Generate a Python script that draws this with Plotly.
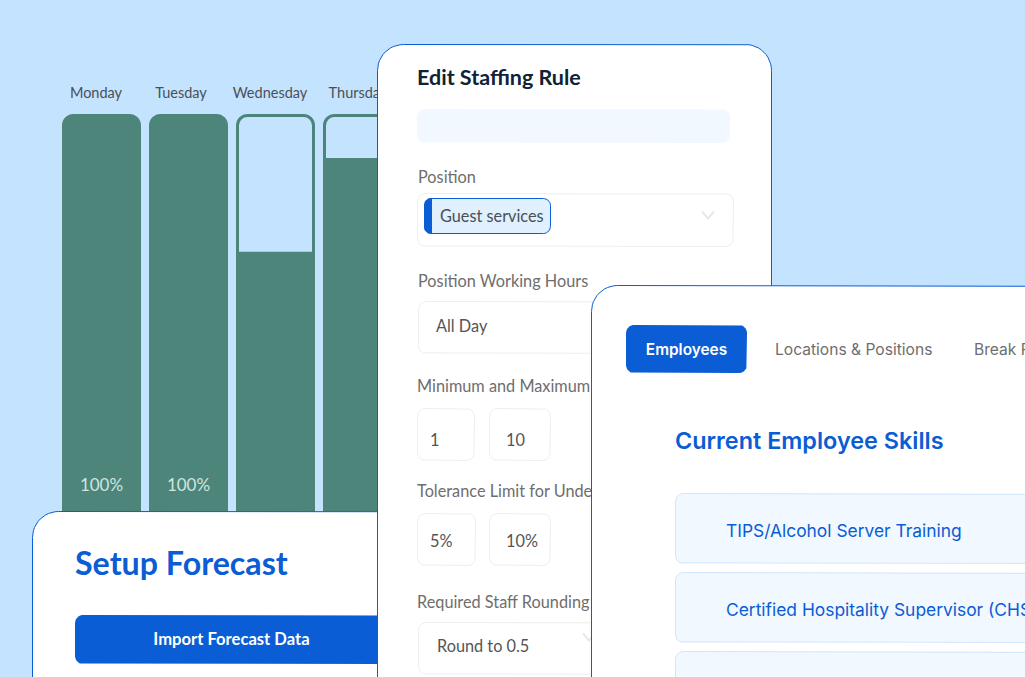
import math
import plotly.graph_objects as go

# ---- chart data ----
days = ["Monday", "Tuesday", "Wednesday", "Thursday"]
coverage = [100, 100, 68.9, 90.3]
bar_labels = ["100%", "100%", "", ""]
day_label_px = [96, 181, 270, 358]

# ---- palette ----
BG = "#C4E3FF"
TEAL = "#4E857B"
BLUE = "#0A5DD4"
PALE = "#F1F8FF"
EDGE = "#EEEEEE"
GREY = "#6E6E6E"
DARK = "#4A4F57"
NAVY = "#0E2238"
FONT = "Lato"
FONT2 = "Inter"

W, H = 1025, 677
PITCH, BAR_W = 87, 79
PX_PER_UNIT = 4.385      # bar scale: 100 % at y=115.5 px, 0 % at y=554 px
ZERO_PX = 554
FIRST_CENTRE = 101.5

fig = go.Figure()

# track bars (outlined, filled when complete)
fig.add_trace(go.Bar(
    x=days, y=[100] * len(days), xaxis="x", yaxis="y",
    width=(BAR_W - 3) / PITCH,
    marker=dict(color=[TEAL if c >= 100 else BG for c in coverage],
                line=dict(color=TEAL, width=3), cornerradius=10),
    cliponaxis=False, hoverinfo="skip", showlegend=False))
# partial fills
fig.add_trace(go.Bar(
    x=days, y=[c if c < 100 else None for c in coverage], xaxis="x", yaxis="y",
    width=BAR_W / PITCH,
    marker=dict(color=TEAL, line=dict(width=0)),
    cliponaxis=False, hoverinfo="skip", showlegend=False))
# percentage labels
fig.add_trace(go.Scatter(
    x=days, y=[15.4] * len(days), mode="text", text=bar_labels, xaxis="x", yaxis="y",
    textfont=dict(family=FONT, size=17, color="#CFE6E0"), cliponaxis=False,
    hoverinfo="skip", showlegend=False))


def rrect(x0, y0, x1, y1, r, fill="white", line=None, lw=1, corners=(1, 1, 1, 1)):
    """Rounded-rectangle interface panel in pixel coordinates (overlay axes)."""
    xs, ys = [], []
    spec = [(x0 + r, y0 + r, 180, corners[0]), (x1 - r, y0 + r, 270, corners[1]),
            (x1 - r, y1 - r, 0, corners[2]), (x0 + r, y1 - r, 90, corners[3])]
    box = [(x0, y0), (x1, y0), (x1, y1), (x0, y1)]
    for i, (cx, cy, a0, on) in enumerate(spec):
        if on:
            for k in range(13):
                a = math.radians(a0 + 90 * k / 12)
                xs.append(cx + r * math.cos(a))
                ys.append(cy + r * math.sin(a))
        else:
            xs.append(box[i][0])
            ys.append(box[i][1])
    xs.append(xs[0])
    ys.append(ys[0])
    fig.add_trace(go.Scatter(
        x=xs, y=ys, mode="lines", fill="toself", fillcolor=fill,
        line=dict(color=line if line else fill, width=lw if line else 0),
        xaxis="x2", yaxis="y2", hoverinfo="skip", showlegend=False))


def txt(x, y, s, size=16.3, color=GREY, weight=400, pos="middle right", family=FONT):
    fig.add_trace(go.Scatter(
        x=[x], y=[y + 1.5], mode="text", text=[s], textposition=pos,
        textfont=dict(family=family, size=size, color=color, weight=weight),
        xaxis="x2", yaxis="y2", hoverinfo="skip", showlegend=False))


def chevron(cx, cy):
    fig.add_trace(go.Scatter(
        x=[cx - 6, cx, cx + 6], y=[cy - 3.5, cy + 3.5, cy - 3.5], mode="lines",
        line=dict(color="#E8E8E8", width=2),
        xaxis="x2", yaxis="y2", hoverinfo="skip", showlegend=False))


# day labels: drawn before the cards so the Edit card overlaps Thursday
for px, day in zip(day_label_px, days):
    txt(px, 93, day, size=14.5, color=DARK, pos="middle center")

# Setup Forecast card
rrect(32.5, 511.5, 420, 760, 26, line=BLUE)
txt(75, 565, "Setup Forecast", size=32.2, color=BLUE, weight=700)
rrect(75, 615, 388, 664, 8, fill=BLUE)
txt(231.5, 639, "Import Forecast Data", size=16.6, color="white", weight=700, pos="middle center")

# Edit Staffing Rule card
rrect(377.5, 44.5, 771.5, 760, 26, line=BLUE)
txt(417, 78, "Edit Staffing Rule", size=21.5, color=NAVY, weight=700)
rrect(417, 109, 730, 143, 8, fill=PALE)
txt(418, 177, "Position")
rrect(417.5, 193.5, 733.5, 246.5, 8, line=EDGE)
rrect(424.5, 198.5, 550.5, 233.5, 7, fill="#E1F0FE", line=BLUE)
rrect(424, 198, 432, 234, 7, fill=BLUE, corners=(1, 0, 0, 1))
txt(440, 216, "Guest services", color=DARK)
chevron(708, 215)
txt(418, 281, "Position Working Hours")
rrect(418.5, 301.5, 735.5, 353.5, 8, line=EDGE)
txt(436, 326, "All Day", color="#555555")
txt(417, 386, "Minimum and Maximum Staff")
rrect(417.5, 408.5, 474.5, 460.5, 8, line=EDGE)
rrect(489.5, 408.5, 550.5, 460.5, 8, line=EDGE)
txt(430, 440, "1", color="#555555")
txt(506, 440, "10", color="#555555")
txt(417, 491, "Tolerance Limit for Under/Over")
rrect(417.5, 513.5, 475.5, 565.5, 8, line=EDGE)
rrect(489.5, 513.5, 550.5, 565.5, 8, line=EDGE)
txt(430, 541, "5%", color="#555555")
txt(506, 541, "10%", color="#555555")
txt(417, 602, "Required Staff Rounding")
rrect(418.5, 622.5, 735.5, 674.5, 8, line=EDGE)
txt(437, 646, "Round to 0.5", color="#555555")
chevron(589, 637)

# Employees card
rrect(591.5, 285.5, 1120, 800, 26, line=BLUE)
rrect(626, 325, 747, 373, 8, fill=BLUE)
txt(686.5, 350, "Employees", size=15.4, color="white", weight=600, pos="middle center", family=FONT2)
txt(775, 350, "Locations & Positions", size=15.6, color=GREY, family=FONT2)
txt(974, 350, "Break Rules", size=15.6, color=GREY, family=FONT2)
txt(675, 441.5, "Current Employee Skills", size=23.4, color=BLUE, weight=600, family=FONT2)
for y0 in (493, 572, 651):
    rrect(675.5, y0 + .5, 1120, y0 + 70.5, 8, fill=PALE, line="#CFE6FC")
txt(726, 531.5, "TIPS/Alcohol Server Training", size=17.4, color=BLUE, family=FONT2)
txt(726, 610.5, "Certified Hospitality Supervisor (CHS)", size=17.4, color=BLUE, family=FONT2)

fig.update_layout(
    width=W, height=H, margin=dict(l=0, r=0, t=0, b=0), showlegend=False,
    paper_bgcolor=BG, plot_bgcolor=BG, barmode="overlay",
    xaxis=dict(type="category", categoryorder="array", categoryarray=days,
               range=[-FIRST_CENTRE / PITCH, (W - FIRST_CENTRE) / PITCH],
               visible=False, domain=[0, 1]),
    yaxis=dict(range=[(ZERO_PX - H) / PX_PER_UNIT, ZERO_PX / PX_PER_UNIT],
               visible=False, domain=[0, 1]),
    xaxis2=dict(range=[0, W], overlaying="x", visible=False),
    yaxis2=dict(range=[H, 0], overlaying="y", visible=False),
)
fig.write_html("out.html", config={"displayModeBar": False},
               post_script="document.body.style.margin='0';")
